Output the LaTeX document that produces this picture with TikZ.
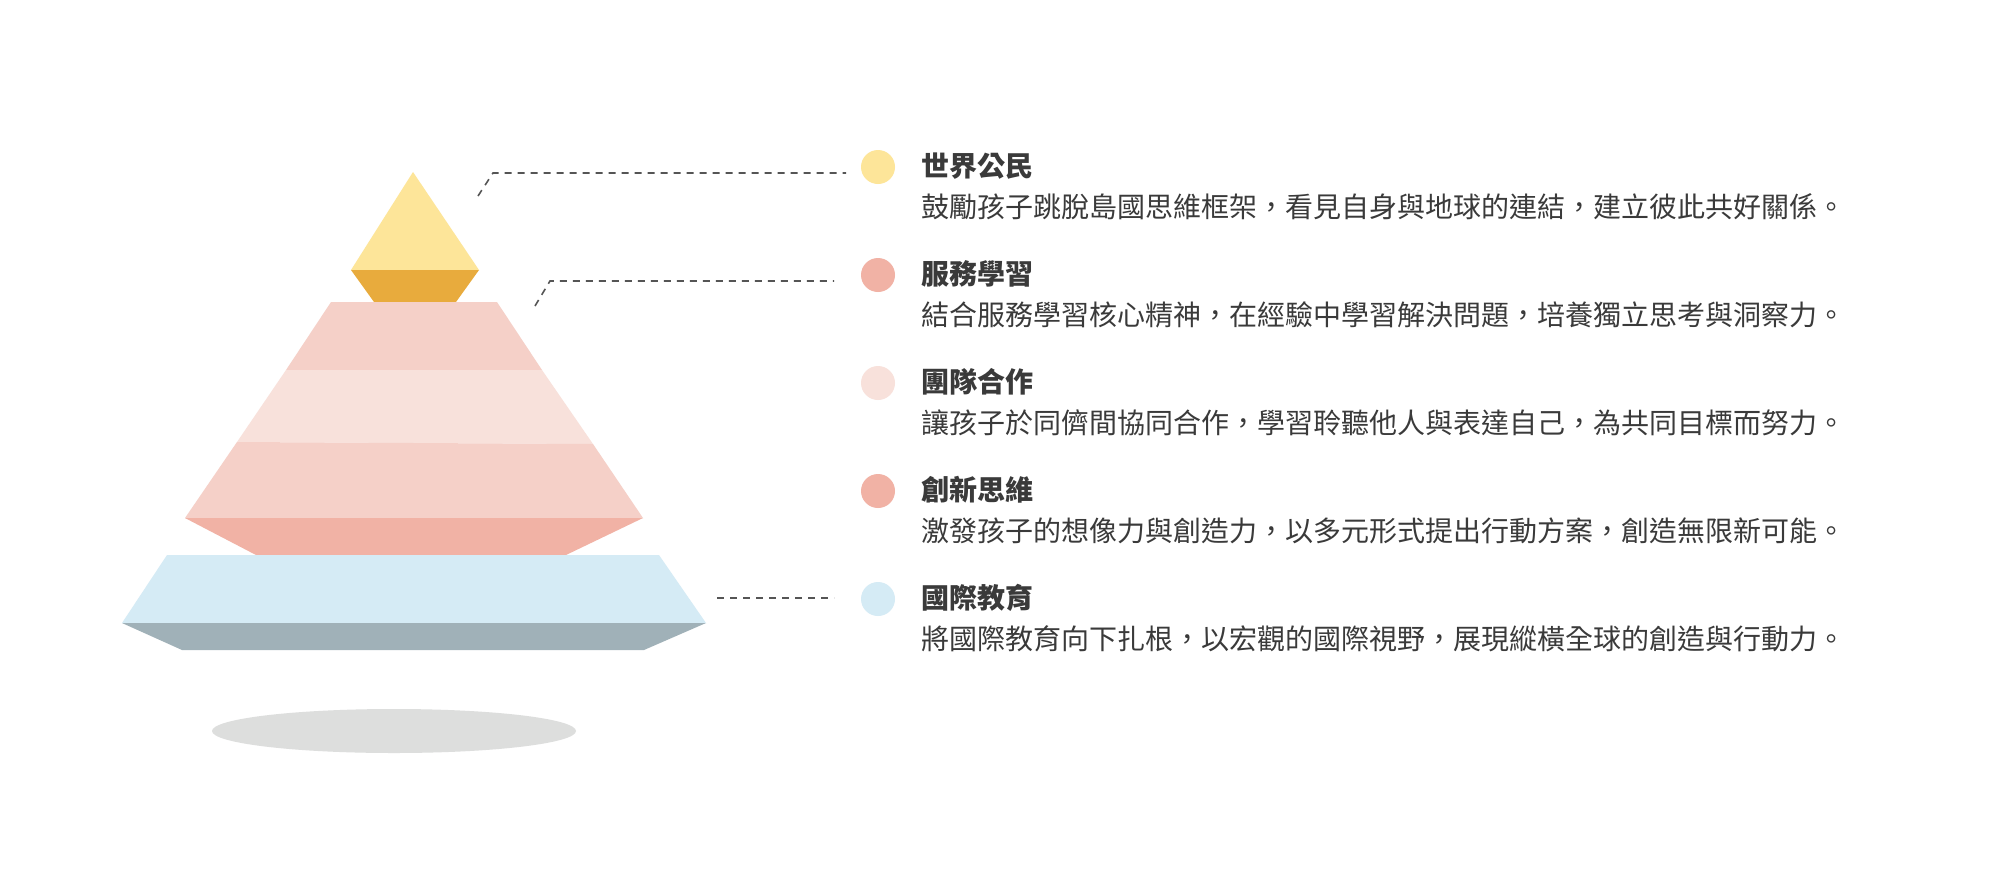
\documentclass[tikz,border=0pt]{standalone}
\usepackage{fontspec}
\setmainfont{Noto Sans CJK TC}
\definecolor{yel}{HTML}{FDE599}
\definecolor{gold}{HTML}{E8AB3D}
\definecolor{pk1}{HTML}{F5D0C8}
\definecolor{pk2}{HTML}{F8E1DB}
\definecolor{sal}{HTML}{F1B2A5}
\definecolor{blu}{HTML}{D5EBF5}
\definecolor{gry}{HTML}{A0B1B8}
\definecolor{shd}{HTML}{DDDEDD}
\definecolor{txt}{HTML}{3A3A3A}
\definecolor{ldr}{HTML}{555555}
\tikzset{
 leader/.style={draw=ldr,line width=1.6pt,dash pattern=on 7pt off 6pt},
 dotn/.style={circle,minimum size=34pt,inner sep=0pt},
 ttl/.style={anchor=west,inner sep=0pt,text=txt,font=\fontsize{28}{31}\selectfont\bfseries},
 dsc/.style={anchor=west,inner sep=0pt,text=txt,font=\fontsize{28}{31}\selectfont},
}
\begin{document}
\begin{tikzpicture}[x=1pt,y=-1pt]
\useasboundingbox (0,0) rectangle (2000,871);
\fill[white] (0,0) rectangle (2000,871);
% shadow
\fill[shd] (394,731) ellipse [x radius=182, y radius=22];
% top
\fill[yel] (413,172) -- (479,270) -- (351,270) -- cycle;
\fill[gold] (351,270) -- (479,270) -- (456,302) -- (374,302) -- cycle;
% pink
\fill[pk1] (331,302) -- (497,302) -- (542,370) -- (286,370) -- cycle;
\fill[pk2] (286,370) -- (542,370) -- (593,444) -- (237,442) -- cycle;
\fill[pk1] (237,442) -- (593,444) -- (643,518) -- (185,518) -- cycle;
\fill[sal] (185,518) -- (643,518) -- (566,555) -- (256,555) -- cycle;
% base
\fill[blu] (167,555) -- (659,555) -- (706,623) -- (122,623) -- cycle;
\fill[gry] (122,623) -- (706,623) -- (644,650) -- (182,650) -- cycle;
% coordinates for leaders
\coordinate (l1a) at (478,196); \coordinate (l1b) at (493,173); \coordinate (l1c) at (846,173);
\coordinate (l2a) at (535,306); \coordinate (l2b) at (550,281); \coordinate (l2c) at (834,281);
\coordinate (l5a) at (717,598); \coordinate (l5c) at (834,598);
\draw[leader] (l1a) -- (l1b) -- (l1c);
\draw[leader] (l2a) -- (l2b) -- (l2c);
\draw[leader] (l5a) -- (l5c);
% legend
\node[dotn,fill=yel] (d1) at (878,167) {};
\node[dotn,fill=sal] (d2) at (878,275) {};
\node[dotn,fill=pk2] (d3) at (878,383) {};
\node[dotn,fill=sal] (d4) at (878,491) {};
\node[dotn,fill=blu] (d5) at (878,599) {};
\node[ttl] (t1) at (921,166) {世界公民};
\node[ttl] (t2) at (921,274) {服務學習};
\node[ttl] (t3) at (921,382) {團隊合作};
\node[ttl] (t4) at (921,490) {創新思維};
\node[ttl] (t5) at (921,598) {國際教育};
\node[dsc] (s1) at (921,207) {鼓勵孩子跳脫島國思維框架，看見自身與地球的連結，建立彼此共好關係。};
\node[dsc] (s2) at (921,315) {結合服務學習核心精神，在經驗中學習解決問題，培養獨立思考與洞察力。};
\node[dsc] (s3) at (921,423) {讓孩子於同儕間協同合作，學習聆聽他人與表達自己，為共同目標而努力。};
\node[dsc] (s4) at (921,531) {激發孩子的想像力與創造力，以多元形式提出行動方案，創造無限新可能。};
\node[dsc] (s5) at (921,639) {將國際教育向下扎根，以宏觀的國際視野，展現縱橫全球的創造與行動力。};
\end{tikzpicture}
\end{document}
